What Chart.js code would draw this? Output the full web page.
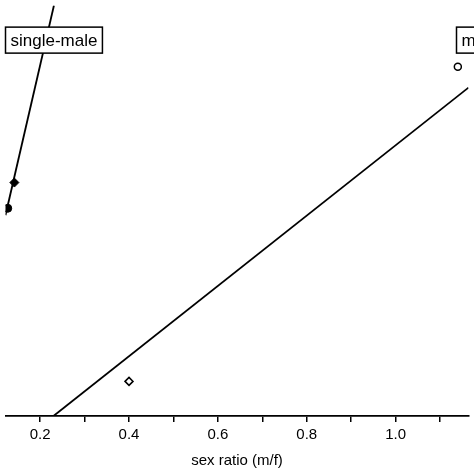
<!DOCTYPE html>
<html><head><meta charset="utf-8">
<script src="https://cdn.jsdelivr.net/npm/chart.js@4"></script>
<style>html,body{margin:0;padding:0;background:#fff}#w{width:474px;height:474px}</style>
</head><body><div id="w"><canvas id="c"></canvas></div>
<script>
const xTicks = [0.2,0.3,0.4,0.5,0.6,0.7,0.8,0.9,1.0,1.1];
const singleFilledCircle = [{x:0.127,y:2.10}];
const singleFilledDiamond = [{x:0.142,y:2.36}];
const multiOpenDiamond = [{x:0.40,y:0.35}];
const multiOpenCircle = [{x:1.14,y:3.53}];
const singleLine = [{x:0.122,y:2.03},{x:0.231,y:4.15}];
const multiLine = [{x:0.23,y:0},{x:1.164,y:3.32}];
const labels = [{text:'single-male',x:0.122,y:3.8},{text:'multi-male',x:1.137,y:3.8}];

const labelPlugin = {
  id:'lbl',
  afterDatasetsDraw(chart){
    const ctx=chart.ctx, xs=chart.scales.x, ys=chart.scales.y;
    ctx.save();
    ctx.font='17px "Liberation Sans", Arial, sans-serif';
    ctx.textBaseline='middle';
    labels.forEach(l=>{
      const px=xs.getPixelForValue(l.x), py=ys.getPixelForValue(l.y);
      const w=ctx.measureText(l.text).width+10;
      ctx.fillStyle='#fff';ctx.fillRect(px,py-13,w,26);
      ctx.strokeStyle='#000';ctx.lineWidth=1.5;ctx.strokeRect(px,py-13,w,26);
      ctx.fillStyle='#000';ctx.fillText(l.text,px+5,py+1);
    });
    ctx.restore();
  }
};
new Chart(document.getElementById('c'),{
  type:'scatter',
  data:{datasets:[
    {data:singleLine,showLine:true,borderColor:'#000',borderWidth:1.8,pointRadius:0},
    {data:multiLine,showLine:true,borderColor:'#000',borderWidth:1.8,pointRadius:0},
    {data:singleFilledCircle,pointStyle:'circle',pointRadius:4,backgroundColor:'#000',borderColor:'#000'},
    {data:singleFilledDiamond,pointStyle:'rectRot',pointRadius:4.5,backgroundColor:'#000',borderColor:'#000'},
    {data:multiOpenDiamond,pointStyle:'rectRot',pointRadius:4,backgroundColor:'#fff',borderColor:'#000',borderWidth:1.5},
    {data:multiOpenCircle,pointStyle:'circle',pointRadius:3.5,backgroundColor:'#fff',borderColor:'#000',borderWidth:1.5}
  ]},
  options:{
    animation:false,responsive:true,maintainAspectRatio:false,
    layout:{padding:{left:0,right:0,top:0,bottom:4}},
    plugins:{legend:{display:false},tooltip:{enabled:false}},
    scales:{
      x:{type:'linear',min:0.122,max:1.164,
        afterBuildTicks(s){s.ticks=xTicks.map(v=>({value:v}));},
        border:{color:'#000',width:1.8},
        grid:{drawOnChartArea:false,color:'#000',tickLength:6,lineWidth:1.5},
        ticks:{color:'#000',padding:4,font:{family:'"Liberation Sans", Arial, sans-serif',size:15},
          callback:(v)=>{const r=Math.round(v*10);return r%2===0?(v).toFixed(1):'';}},
        title:{display:true,text:'sex ratio (m/f)',color:'#000',padding:{top:4,bottom:0},font:{family:'"Liberation Sans", Arial, sans-serif',size:15}}
      },
      y:{display:false,min:0,max:4.15}
    }
  },
  plugins:[labelPlugin]
});
</script></body></html>
